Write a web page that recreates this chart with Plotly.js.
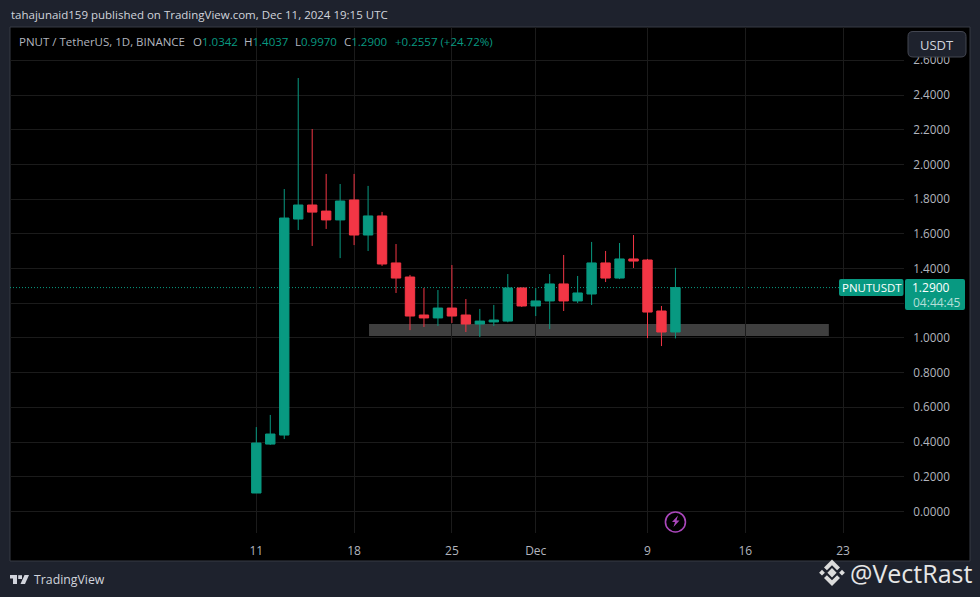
<!DOCTYPE html>
<html><head><meta charset="utf-8">
<script src="https://cdn.plot.ly/plotly-3.0.1.min.js"></script>
<style>html,body{margin:0;padding:0;background:#1e222d;overflow:hidden}#c{width:980px;height:597px}</style>
</head><body><div id="c"></div>
<script>
const dates=['2024-11-11','2024-11-12','2024-11-13','2024-11-14','2024-11-15','2024-11-16','2024-11-17','2024-11-18','2024-11-19','2024-11-20','2024-11-21','2024-11-22','2024-11-23','2024-11-24','2024-11-25','2024-11-26','2024-11-27','2024-11-28','2024-11-29','2024-11-30','2024-12-01','2024-12-02','2024-12-03','2024-12-04','2024-12-05','2024-12-06','2024-12-07','2024-12-08','2024-12-09','2024-12-10','2024-12-11'];
const opens =[0.106,0.388,0.440,1.685,1.766,1.731,1.680,1.795,1.593,1.703,1.432,1.351,1.132,1.115,1.172,1.132,1.080,1.092,1.097,1.288,1.184,1.213,1.311,1.213,1.253,1.432,1.345,1.455,1.449,1.155,1.0342];
const highs =[0.486,0.556,1.858,2.498,2.204,1.945,1.887,1.945,1.876,1.726,1.541,1.363,1.288,1.276,1.420,1.224,1.167,1.190,1.368,1.290,1.288,1.368,1.478,1.357,1.553,1.501,1.547,1.593,1.455,1.184,1.4037];
const lows  =[0.106,0.383,0.417,1.622,1.530,1.628,1.460,1.535,1.501,1.415,1.259,1.045,1.063,1.069,1.086,1.034,1.005,1.069,1.090,1.178,1.126,1.051,1.155,1.201,1.190,1.322,1.339,1.403,0.999,0.953,0.9970];
const closes=[0.394,0.446,1.691,1.766,1.725,1.680,1.789,1.593,1.703,1.426,1.345,1.126,1.115,1.172,1.126,1.080,1.097,1.103,1.288,1.184,1.213,1.311,1.213,1.259,1.432,1.345,1.455,1.443,1.149,1.034,1.2900];
const xTickDates=['2024-11-11','2024-11-18','2024-11-25','2024-12-01','2024-12-09','2024-12-16','2024-12-23'];
const xTickLabels=['11','18','25','Dec','9','16','23'];
const yTicks=[0,0.2,0.4,0.6,0.8,1.0,1.2,1.4,1.6,1.8,2.0,2.2,2.4,2.6];
const yTickLabels=['0.0000','0.2000','0.4000','0.6000','0.8000','1.0000','','1.4000','1.6000','1.8000','2.0000','2.2000','2.4000','2.6000'];
const lastPrice=1.29;
const zoneTop=1.08, zoneBottom=1.011, zoneStart='2024-11-19 01:40', zoneEnd='2024-12-21 23:30';
const eventDate=['2024-12-11'], eventLevel=[-0.061];

const GREEN='#089981',RED='#f23645',BG='#1e222d',FONT='"Open Sans",sans-serif',TXT='#b2b5be';
const L=10,R=904,T=27,B=533;
const px=x=>(x-L)/(R-L), py=y=>(B-y)/(B-T);
const P=(x,y)=>px(x)+','+py(y);
function path(cmds){return cmds.map(c=>c.length===1?c[0]:c[0]+' '+c.slice(1).reduce((a,v,i)=>{if(i%2===0)a.push(P(v,c[i+2]));return a;},[]).join(' ')).join(' ');}
function pshape(cmds,fill,line,layer){return {type:'path',xref:'paper',yref:'paper',path:path(cmds),fillcolor:fill,line:line||{width:0},layer:layer||'above'};}
function rr(x0,y0,x1,y1,r){return [['M',x0+r,y0],['L',x1-r,y0],['Q',x1,y0,x1,y0+r],['L',x1,y1-r],['Q',x1,y1,x1-r,y1],['L',x0+r,y1],['Q',x0,y1,x0,y1-r],['L',x0,y0+r],['Q',x0,y0,x0+r,y0],['Z']];}
function ann(text,x,y,size,color,anchor,family){return {text,xref:'paper',yref:'paper',x:px(x),y:py(y),xanchor:anchor||'left',yanchor:'middle',showarrow:false,borderpad:0,font:{family:family||FONT,size,color}};}

const shapes=[
 {type:'rect',xref:'paper',yref:'paper',x0:px(10),x1:px(970),y0:py(27),y1:py(561),fillcolor:'#000',line:{color:'#363a45',width:1},layer:'below'},
 {type:'rect',xref:'x',yref:'y',x0:zoneStart,x1:zoneEnd,y0:zoneBottom,y1:zoneTop,fillcolor:'#3f3f3f',line:{width:0},layer:'below'},
 {type:'line',xref:'paper',yref:'y',x0:0,x1:1,y0:lastPrice,y1:lastPrice,line:{color:GREEN,width:1,dash:'1px,2px'},layer:'below'},
 pshape(rr(908,31.5,966,57,5),BG,{color:'#434651',width:1}),
 pshape(rr(839,279,903.5,296,2),GREEN),
 pshape(rr(905,279,965,310,2),GREEN),
 // lightning bolt
 pshape([['M',678,515.5],['L',672,522],['L',675,522],['L',673.5,527],['L',679.5,520.5],['L',676.5,520.5],['Z']],'#ab47bc'),
 // TradingView logo
 pshape([['M',10,575],['L',17,575],['L',17,584],['L',13,584],['L',13,578.5],['L',10,578.5],['Z']],'#d1d4dc'),
 pshape([['M',18.2,575.2],['L',22,575.2],['L',22,579],['L',18.2,579],['Z']],'#d1d4dc'),
 pshape([['M',24.5,575],['L',29,575],['L',25,584],['L',20.5,584],['Z']],'#d1d4dc'),
 // Binance mark
 pshape([['M',832,568],['L',836.6,572.7],['L',832,577.4],['L',827.4,572.7],['Z']],'#dcdcdc'),
 pshape([['M',822,569.8],['L',824.9,572.7],['L',822,575.6],['L',819.1,572.7],['Z']],'#dcdcdc'),
 pshape([['M',842,569.8],['L',844.9,572.7],['L',842,575.6],['L',839.1,572.7],['Z']],'#dcdcdc'),
 pshape([['M',832,559.5],['L',840,567.5],['L',837.1,570.3],['L',832,565.2],['L',826.9,570.3],['L',824,567.5],['Z']],'#dcdcdc'),
 pshape([['M',832,586],['L',840,578],['L',837.1,575.2],['L',832,580.3],['L',826.9,575.2],['L',824,578],['Z']],'#dcdcdc')
];

const annotations=[
 ann('tahajunaid159 published on TradingView.com, Dec 11, 2024 19:15 UTC',10,15,11.5,'#d1d4dc'),
 ann('PNUT / TetherUS, 1D, BINANCE',18,41.5,11.5,TXT),
 ann('O<span style="color:'+GREEN+'">1.0342</span>',192,41.5,11.5,TXT),
 ann('H<span style="color:'+GREEN+'">1.4037</span>',243,41.5,11.5,TXT),
 ann('L<span style="color:'+GREEN+'">0.9970</span>',294,41.5,11.5,TXT),
 ann('C<span style="color:'+GREEN+'">1.2900</span>',343,41.5,11.5,TXT),
 ann('+0.2557 (+24.72%)',393.5,41.5,11.5,GREEN),
 ann('USDT',937,44.5,13,'#d1d4dc','center'),
 ann('PNUTUSDT',871.5,287.5,11.5,'#fff','center'),
 ann('1.2900',931,287.5,12,'#fff','center'),
 ann('04:44:45',936.5,302,12,'#b5dfd8','center'),
 ann('TradingView',33,579.5,12.3,'#d1d4dc'),
 ann('@VectRast',849,573,25,'#e6e6e6')
];

const traces=[
 {type:'candlestick',x:dates,open:opens,high:highs,low:lows,close:closes,
  increasing:{line:{color:GREEN,width:1},fillcolor:GREEN},
  decreasing:{line:{color:RED,width:1},fillcolor:RED},whiskerwidth:0,hoverinfo:'none',showlegend:false},
 {type:'scatter',mode:'markers',x:eventDate,y:eventLevel,hoverinfo:'none',showlegend:false,cliponaxis:false,
  marker:{symbol:'circle-open',size:20,color:'#ab47bc',line:{color:'#ab47bc',width:1.6}}}
];

const layout={
 width:980,height:597,boxgap:0.04,
 margin:{l:L,r:980-R,t:T,b:597-B,pad:0},
 paper_bgcolor:BG,plot_bgcolor:'#000',showlegend:false,dragmode:false,
 xaxis:{type:'date',range:['2024-10-24 08:53','2024-12-27 08:38'],rangeslider:{visible:false},
  tickmode:'array',tickvals:xTickDates,ticktext:xTickLabels,
  showgrid:true,gridcolor:'#1b1b1b',gridwidth:1,zeroline:false,showline:false,
  ticks:'outside',ticklen:7,tickcolor:'rgba(0,0,0,0)',tickfont:{family:FONT,size:12,color:TXT}},
 yaxis:{side:'right',range:[-0.1245,2.7920],tickmode:'array',tickvals:yTicks,ticktext:yTickLabels,
  showgrid:true,gridcolor:'#1b1b1b',gridwidth:1,zeroline:false,showline:false,
  ticks:'outside',ticklen:6,tickcolor:'rgba(0,0,0,0)',tickfont:{family:FONT,size:11.7,color:TXT}},
 shapes,annotations
};
Plotly.newPlot('c',traces,layout,{displayModeBar:false,staticPlot:true});
</script></body></html>
